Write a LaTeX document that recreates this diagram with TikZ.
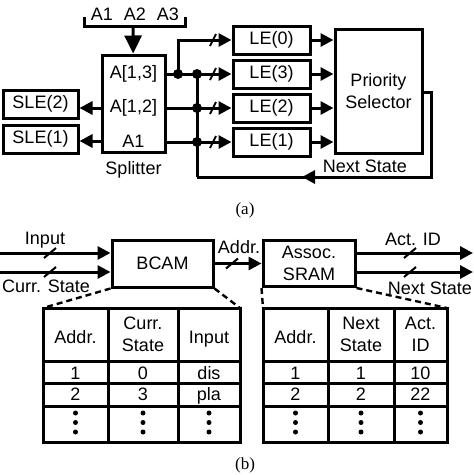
\documentclass[tikz,border=0pt]{standalone}
\usepackage{fontspec}
\setmainfont{Liberation Sans}
\newfontfamily\captionfont{Liberation Serif}
\usetikzlibrary{arrows.meta}

\begin{document}
\begin{tikzpicture}[x=1pt, y=-1pt, line width=3pt,
        font=\fontsize{18}{22}\selectfont,
        box/.style={draw, line width=3pt, inner sep=0pt},
        arr/.style={-{Triangle[length=13pt, width=13pt]}},
        bigarr/.style={-{Triangle[length=18pt, width=17pt]}},
        jdot/.style={circle, fill, inner sep=0pt, minimum size=10pt},
        cell/.style={anchor=base, align=center},
        link/.style={dash pattern=on 6pt off 4pt, line width=2.4pt},
        caption/.style={font=\captionfont\fontsize{17}{20}\selectfont},
        buswidth/.pic={\draw[line width=2pt] (-3,6) -- (3,-6);},
        widebus/.pic={\draw[line width=2pt] (-6,5) -- (6,-5);}]
        \useasboundingbox (0,0) rectangle (474,475);

        % (a) splitter and its inputs
        \node (a1) at (102,14) {A1};
        \node (a2) at (135,14) {A2};
        \node (a3) at (168,14) {A3};
        \coordinate (busl) at (84,17);
        \coordinate (busr) at (185,17);
        \coordinate (bus) at (133,26);
        \draw (busl) |- (bus) -| (busr);

        \node[box, minimum width=63pt, minimum height=97pt, label={[yshift=-3pt]below:Splitter}] (split) at (133.5,103.5) {};
        \node (s13) at (133.5,74) {A[1,3]};
        \node (s12) at (133.5,108) {A[1,2]};
        \node (s1) at (133.5,141) {A1};
        \draw[bigarr] (bus) -- (split);

        \node[box, minimum width=75pt, minimum height=28pt] (sle2) at (40.5,104) {SLE(2)};
        \node[box, minimum width=75pt, minimum height=28pt] (sle1) at (40.5,139) {SLE(1)};
        \draw[arr] (split.west |- s12) -- (sle2.east |- s12);
        \draw[arr] (split.west |- s1) -- (sle1.east |- s1);

        \node[box, minimum width=77pt, minimum height=28pt] (le0) at (271.5,40) {LE(0)};
        \node[box, minimum width=77pt, minimum height=28pt] (le3) at (271.5,74) {LE(3)};
        \node[box, minimum width=77pt, minimum height=28pt] (le2) at (271.5,108) {LE(2)};
        \node[box, minimum width=77pt, minimum height=28pt] (le1) at (271.5,142) {LE(1)};
        \node[box, minimum width=87pt, minimum height=124pt, align=center] (sel) at (378.5,91) {Priority\\Selector};

        \node[jdot] (j0) at (178,74) {};
        \node[jdot] (j3) at (197,74) {};
        \node[jdot] (j2) at (197,108) {};
        \node[jdot] (j1) at (197,142) {};
        \coordinate (ns) at (431,92);
        \coordinate (ret) at (431,177);
        \coordinate (fb) at (197,177);
        \coordinate (nstip) at (302,177);

        \draw[arr] (split.east |- le3) -- (le3.west);
        \draw[arr] (split.east |- le2) -- (le2.west);
        \draw[arr] (split.east |- le1) -- (le1.west);
        \draw[arr] (j0.center) |- (le0.west);
        \draw (j3.center) -- (fb);
        \foreach \y in {40,74,108,142}
            \pic at (213,\y) {buswidth};

        \draw[arr] (le0.east) -- (sel.west |- le0);
        \draw[arr] (le3.east) -- (sel.west |- le3);
        \draw[arr] (le2.east) -- (sel.west |- le2);
        \draw[arr] (le1.east) -- (sel.west |- le1);

        % feedback
        \draw (sel.east |- ns) -- (ns) -- (ret) -- (fb);
        \draw[arr] (ret) -- (nstip);
        \node (nslabel) at (365,166) {Next State};

        \node[caption] (capa) at (245,210) {(a)};

        % (b) BCAM and SRAM
        \node[box, minimum width=101pt, minimum height=47pt] (bcam) at (162.5,263.5) {BCAM};
        \node[box, minimum width=92pt, minimum height=46pt, align=center] (sram) at (309,263.5) {Assoc.\\SRAM};
        \coordinate (inp) at (0,253);
        \coordinate (cst) at (0,272);
        \coordinate (aid) at (473,253);
        \coordinate (nst) at (473,272);

        \draw[arr] (inp) -- (bcam.west |- inp);
        \draw[arr] (cst) -- (bcam.west |- cst);
        \draw[arr] (bcam) -- (sram);
        \draw[arr] (sram.east |- aid) -- (aid);
        \draw[arr] (sram.east |- nst) -- (nst);
        \foreach \x/\y in {50/253, 50/272, 232/263.5, 410/253, 410/272}
            \pic at (\x,\y) {widebus};

        \node (linp) at (45,240) {Input};
        \node (lcst) at (46,286) {Curr. State};
        \node (laddr) at (239,247) {Addr.};
        \node (laid) at (413,239) {Act. ID};
        \node (lnst) at (430,288) {Next State};

        % tables
        \coordinate (t1l) at (43,308);
        \coordinate (t1r) at (240,308);
        \coordinate (t2l) at (263,308);
        \coordinate (t2r) at (447,308);
        \draw[link] (bcam.south west) -- (t1l)
            (bcam.south east) -- (t1r)
            (sram.south west) -- (t2l)
            (sram.south east) -- (t2r);

        \foreach \l/\a/\b/\r in {43/108/178/240, 263/328/394/447} {
            \draw (\l,308) rectangle (\r,442);
            \draw (\a,308) -- (\a,442)
                (\b,308) -- (\b,442);
            \foreach \y in {361,383,406}
                \draw (\l,\y) -- (\r,\y);
        }

        \node[cell] (h1) at (75.5,343) {Addr.};
        \node[cell] (h2) at (143,351) {Curr.\\State};
        \node[cell] (h3) at (209,343) {Input};
        \node[cell] (c11) at (75.5,379) {1};
        \node[cell] (c12) at (143,379) {0};
        \node[cell] (c13) at (209,379) {dis};
        \node[cell] (c21) at (75.5,400) {2};
        \node[cell] (c22) at (143,400) {3};
        \node[cell] (c23) at (209,400) {pla};

        \node[cell] (g1) at (295.5,343) {Addr.};
        \node[cell] (g2) at (361,351) {Next\\State};
        \node[cell] (g3) at (420.5,351) {Act.\\ID};
        \node[cell] (d11) at (295.5,379) {1};
        \node[cell] (d12) at (361,379) {1};
        \node[cell] (d13) at (420.5,379) {10};
        \node[cell] (d21) at (295.5,400) {2};
        \node[cell] (d22) at (361,400) {2};
        \node[cell] (d23) at (420.5,400) {22};

        \foreach \x in {75.5,143,209,295.5,361,420.5}
            \foreach \y in {413,422.5,432}
                \fill (\x,\y) circle (2.5pt);

        \node[caption] (capb) at (245,465) {(b)};
\end{tikzpicture}
\end{document}
